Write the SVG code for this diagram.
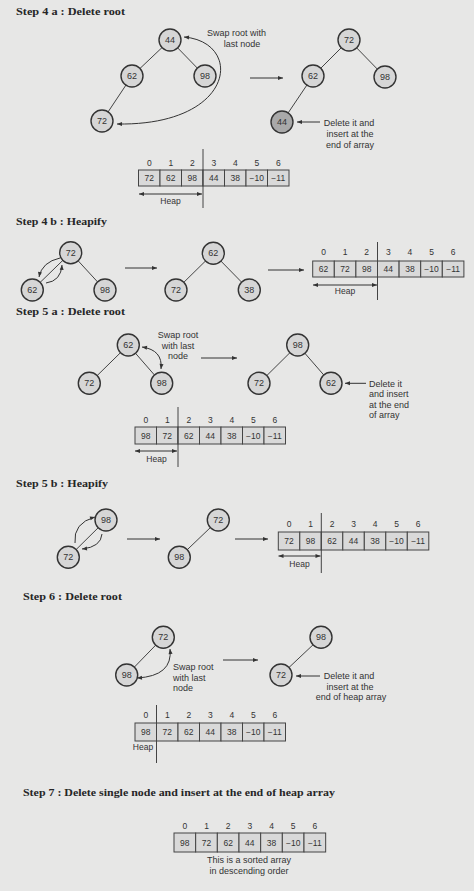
<svg xmlns="http://www.w3.org/2000/svg" width="474" height="891" viewBox="0 0 474 891">
<defs>
<marker id="ah" viewBox="0 0 10 10" refX="10" refY="5" markerWidth="6" markerHeight="5" orient="auto-start-reverse" markerUnits="userSpaceOnUse"><path d="M0,1 L10,5 L0,9 z" fill="#333"/></marker>
<style>
.t{font-family:"Liberation Serif","DejaVu Serif",serif;font-weight:bold;font-size:11px;fill:#262626}
.lbl{font-family:"Liberation Sans",Arial,sans-serif;font-size:9px;fill:#333}
.c{text-anchor:middle}
.n circle{fill:#d6d6d6;stroke:#333;stroke-width:1.4}
.n.dk circle{fill:#a9a9a9}
.n text{font-family:"Liberation Sans",Arial,sans-serif;font-size:9px;fill:#333;text-anchor:middle}
.arrtbl rect{fill:#d9d9d9;stroke:#444;stroke-width:1}
.arrtbl text{font-family:"Liberation Sans",Arial,sans-serif;font-size:8.5px;fill:#333;text-anchor:middle}
.edge{stroke:#444;stroke-width:1;fill:none}
.ar{stroke:#333;stroke-width:1;fill:none;marker-end:url(#ah)}
.ar2{stroke:#333;stroke-width:1;fill:none;marker-end:url(#ah);marker-start:url(#ah)}
.div{stroke:#444;stroke-width:1}
</style>
</defs>
<rect x="0" y="0" width="474" height="891" fill="#e7e7e6"/>

<g id="titles">
<text class="t" x="16" y="15" textLength="109" lengthAdjust="spacingAndGlyphs">Step 4 a : Delete root</text>
<text class="t" x="16" y="225" textLength="91" lengthAdjust="spacingAndGlyphs">Step 4 b : Heapify</text>
<text class="t" x="16" y="315" textLength="109" lengthAdjust="spacingAndGlyphs">Step 5 a : Delete root</text>
<text class="t" x="16" y="487" textLength="92" lengthAdjust="spacingAndGlyphs">Step 5 b : Heapify</text>
<text class="t" x="23" y="600" textLength="99" lengthAdjust="spacingAndGlyphs">Step 6 : Delete root</text>
<text class="t" x="23" y="796" textLength="312" lengthAdjust="spacingAndGlyphs">Step 7 : Delete single node and insert at the end of heap array</text>
</g>

<g id="connectors">
<!-- step 4a -->
<line class="edge" x1="170" y1="40" x2="132" y2="76"/>
<line class="edge" x1="170" y1="40" x2="205" y2="76"/>
<line class="edge" x1="132" y1="76" x2="102" y2="121"/>
<path class="ar2" d="M117,124 C236,126 244,42 184,37"/>
<line class="ar" x1="250" y1="78" x2="283" y2="78"/>
<line class="edge" x1="349" y1="40" x2="313" y2="76"/>
<line class="edge" x1="349" y1="40" x2="385" y2="77"/>
<line class="edge" x1="313" y1="76" x2="282" y2="122"/>
<line class="ar" x1="320" y1="122" x2="297" y2="122"/>
<!-- step 4b -->
<line class="edge" x1="70.7" y1="252.7" x2="32.3" y2="290"/>
<line class="edge" x1="70.7" y1="252.7" x2="105" y2="290"/>
<path class="ar" d="M60,258 Q42,262 39,277"/>
<path class="ar" d="M46,283 Q61,281 62,265"/>
<line class="ar" x1="125" y1="268" x2="157" y2="268"/>
<line class="edge" x1="213.3" y1="253.3" x2="176" y2="290"/>
<line class="edge" x1="213.3" y1="253.3" x2="249.3" y2="290"/>
<line class="ar" x1="268" y1="270" x2="304" y2="270"/>
<!-- step 5a -->
<line class="edge" x1="128.3" y1="345" x2="89.3" y2="383.3"/>
<line class="edge" x1="128.3" y1="345" x2="161.7" y2="383.3"/>
<path class="ar2" d="M142,347 Q163,350 161,369"/>
<line class="ar" x1="201" y1="358" x2="237" y2="358"/>
<line class="edge" x1="297.7" y1="345" x2="259" y2="383.3"/>
<line class="edge" x1="297.7" y1="345" x2="331" y2="383.3"/>
<line class="ar" x1="366" y1="383.3" x2="345" y2="383.3"/>
<!-- step 5b -->
<line class="edge" x1="106" y1="520" x2="68.3" y2="557.3"/>
<path class="ar" d="M75,543 Q73,523 95,517"/>
<path class="ar" d="M102,534 Q101,547 82,549"/>
<line class="ar" x1="127" y1="539" x2="160" y2="539"/>
<line class="edge" x1="218.3" y1="520" x2="179.3" y2="557.3"/>
<line class="ar" x1="235" y1="539" x2="268" y2="539"/>
<!-- step 6 -->
<line class="edge" x1="163.3" y1="637.3" x2="126.7" y2="675"/>
<path class="ar2" d="M170,649 Q173,676 137,678"/>
<line class="ar" x1="223" y1="660" x2="258" y2="660"/>
<line class="edge" x1="321" y1="637.3" x2="281" y2="675"/>
<line class="ar" x1="320" y1="676" x2="296" y2="676"/>
</g>

<g id="nodes">
<g id="s4a_n44" class="n"><circle cx="170" cy="40" r="11"/><text x="170" y="43">44</text></g>
<g id="s4a_n62" class="n"><circle cx="132" cy="76" r="11"/><text x="132" y="79">62</text></g>
<g id="s4a_n98" class="n"><circle cx="205" cy="76" r="11"/><text x="205" y="79">98</text></g>
<g id="s4a_n72" class="n"><circle cx="102" cy="121" r="11"/><text x="102" y="124">72</text></g>
<g id="s4a_r72" class="n"><circle cx="349" cy="40" r="11"/><text x="349" y="43">72</text></g>
<g id="s4a_r62" class="n"><circle cx="313" cy="76" r="11"/><text x="313" y="79">62</text></g>
<g id="s4a_r98" class="n"><circle cx="385" cy="77" r="11"/><text x="385" y="80">98</text></g>
<g id="s4a_r44" class="n dk"><circle cx="282" cy="122" r="11"/><text x="282" y="125">44</text></g>

<g id="s4b_n72" class="n"><circle cx="70.7" cy="252.7" r="11"/><text x="70.7" y="255.7">72</text></g>
<g id="s4b_n62" class="n"><circle cx="32.3" cy="290" r="11"/><text x="32.3" y="293">62</text></g>
<g id="s4b_n98" class="n"><circle cx="105" cy="290" r="11"/><text x="105" y="293">98</text></g>
<g id="s4b_m62" class="n"><circle cx="213.3" cy="253.3" r="11"/><text x="213.3" y="256.3">62</text></g>
<g id="s4b_m72" class="n"><circle cx="176" cy="290" r="11"/><text x="176" y="293">72</text></g>
<g id="s4b_m38" class="n"><circle cx="249.3" cy="290" r="11"/><text x="249.3" y="293">38</text></g>

<g id="s5a_n62" class="n"><circle cx="128.3" cy="345" r="11"/><text x="128.3" y="348">62</text></g>
<g id="s5a_n72" class="n"><circle cx="89.3" cy="383.3" r="11"/><text x="89.3" y="386.3">72</text></g>
<g id="s5a_n98" class="n"><circle cx="161.7" cy="383.3" r="11"/><text x="161.7" y="386.3">98</text></g>
<g id="s5a_r98" class="n"><circle cx="297.7" cy="345" r="11"/><text x="297.7" y="348">98</text></g>
<g id="s5a_r72" class="n"><circle cx="259" cy="383.3" r="11"/><text x="259" y="386.3">72</text></g>
<g id="s5a_r62" class="n"><circle cx="331" cy="383.3" r="11"/><text x="331" y="386.3">62</text></g>

<g id="s5b_n98" class="n"><circle cx="106" cy="520" r="11"/><text x="106" y="523">98</text></g>
<g id="s5b_n72" class="n"><circle cx="68.3" cy="557.3" r="11"/><text x="68.3" y="560.3">72</text></g>
<g id="s5b_m72" class="n"><circle cx="218.3" cy="520" r="11"/><text x="218.3" y="523">72</text></g>
<g id="s5b_m98" class="n"><circle cx="179.3" cy="557.3" r="11"/><text x="179.3" y="560.3">98</text></g>

<g id="s6_n72" class="n"><circle cx="163.3" cy="637.3" r="11"/><text x="163.3" y="640.3">72</text></g>
<g id="s6_n98" class="n"><circle cx="126.7" cy="675" r="11"/><text x="126.7" y="678">98</text></g>
<g id="s6_r98" class="n"><circle cx="321" cy="637.3" r="11"/><text x="321" y="640.3">98</text></g>
<g id="s6_r72" class="n"><circle cx="281" cy="675" r="11"/><text x="281" y="678">72</text></g>
</g>

<g id="labels">
<text class="lbl c" x="236.5" y="36">Swap root  with</text>
<text class="lbl c" x="242" y="47">last node</text>
<text class="lbl c" x="349" y="125.5">Delete it and</text>
<text class="lbl c" x="350" y="137">insert at the</text>
<text class="lbl c" x="350" y="148">end of array</text>
<text class="lbl c" x="178" y="338">Swap root</text>
<text class="lbl c" x="178" y="348.5">with last</text>
<text class="lbl c" x="178" y="359">node</text>
<text class="lbl" x="369" y="386.5">Delete it</text>
<text class="lbl" x="369" y="397">and insert</text>
<text class="lbl" x="369" y="407.5">at the end</text>
<text class="lbl" x="369" y="418">of array</text>
<text class="lbl" x="173" y="670">Swap root</text>
<text class="lbl" x="173" y="680.5">with last</text>
<text class="lbl" x="173" y="691">node</text>
<text class="lbl c" x="349" y="679">Delete it and</text>
<text class="lbl c" x="350" y="689.5">insert at the</text>
<text class="lbl c" x="351" y="700">end of heap array</text>
<text class="lbl c" x="249" y="863">This is a sorted array</text>
<text class="lbl c" x="249" y="874">in descending order</text>
</g>

<g id="array_4a" class="arrtbl">
<rect x="138.5" y="170" width="21.5" height="16"/><rect x="160" y="170" width="21.5" height="16"/><rect x="181.5" y="170" width="21.5" height="16"/><rect x="203" y="170" width="21.5" height="16"/><rect x="224.5" y="170" width="21.5" height="16"/><rect x="246" y="170" width="21.5" height="16"/><rect x="267.5" y="170" width="21.5" height="16"/>
<text x="149.25" y="166">0</text><text x="170.75" y="166">1</text><text x="192.25" y="166">2</text><text x="213.75" y="166">3</text><text x="235.25" y="166">4</text><text x="256.75" y="166">5</text><text x="278.25" y="166">6</text>
<text x="149.25" y="181">72</text><text x="170.75" y="181">62</text><text x="192.25" y="181">98</text><text x="213.75" y="181">44</text><text x="235.25" y="181">38</text><text x="256.75" y="181">−10</text><text x="278.25" y="181">−11</text>
<line class="div" x1="203" y1="149" x2="203" y2="208"/>
<line class="ar2" x1="139" y1="194" x2="202" y2="194"/>
<text x="170.5" y="204" font-size="9">Heap</text>
</g>

<g id="array_4b" class="arrtbl">
<rect x="312.7" y="261" width="21.6" height="16"/><rect x="334.3" y="261" width="21.6" height="16"/><rect x="355.9" y="261" width="21.6" height="16"/><rect x="377.5" y="261" width="21.6" height="16"/><rect x="399.1" y="261" width="21.6" height="16"/><rect x="420.7" y="261" width="21.6" height="16"/><rect x="442.3" y="261" width="21.6" height="16"/>
<text x="323.5" y="255">0</text><text x="345.1" y="255">1</text><text x="366.7" y="255">2</text><text x="388.3" y="255">3</text><text x="409.9" y="255">4</text><text x="431.5" y="255">5</text><text x="453.1" y="255">6</text>
<text x="323.5" y="272">62</text><text x="345.1" y="272">72</text><text x="366.7" y="272">98</text><text x="388.3" y="272">44</text><text x="409.9" y="272">38</text><text x="431.5" y="272">−10</text><text x="453.1" y="272">−11</text>
<line class="div" x1="377.5" y1="242" x2="377.5" y2="300"/>
<line class="ar2" x1="313" y1="285" x2="377" y2="285"/>
<text x="345" y="294" font-size="9">Heap</text>
</g>

<g id="array_5a" class="arrtbl">
<rect x="135" y="427" width="21.5" height="17"/><rect x="156.5" y="427" width="21.5" height="17"/><rect x="178" y="427" width="21.5" height="17"/><rect x="199.5" y="427" width="21.5" height="17"/><rect x="221" y="427" width="21.5" height="17"/><rect x="242.5" y="427" width="21.5" height="17"/><rect x="264" y="427" width="21.5" height="17"/>
<text x="145.75" y="422.5">0</text><text x="167.25" y="422.5">1</text><text x="188.75" y="422.5">2</text><text x="210.25" y="422.5">3</text><text x="231.75" y="422.5">4</text><text x="253.25" y="422.5">5</text><text x="274.75" y="422.5">6</text>
<text x="145.75" y="438.5">98</text><text x="167.25" y="438.5">72</text><text x="188.75" y="438.5">62</text><text x="210.25" y="438.5">44</text><text x="231.75" y="438.5">38</text><text x="253.25" y="438.5">−10</text><text x="274.75" y="438.5">−11</text>
<line class="div" x1="178" y1="407" x2="178" y2="467"/>
<line class="ar2" x1="135" y1="451" x2="177" y2="451"/>
<text x="156.5" y="462" font-size="9">Heap</text>
</g>

<g id="array_5b" class="arrtbl">
<rect x="278.3" y="532" width="21.5" height="18"/><rect x="299.8" y="532" width="21.5" height="18"/><rect x="321.3" y="532" width="21.5" height="18"/><rect x="342.8" y="532" width="21.5" height="18"/><rect x="364.3" y="532" width="21.5" height="18"/><rect x="385.8" y="532" width="21.5" height="18"/><rect x="407.3" y="532" width="21.5" height="18"/>
<text x="289.05" y="527">0</text><text x="310.55" y="527">1</text><text x="332.05" y="527">2</text><text x="353.55" y="527">3</text><text x="375.05" y="527">4</text><text x="396.55" y="527">5</text><text x="418.05" y="527">6</text>
<text x="289.05" y="544">72</text><text x="310.55" y="544">98</text><text x="332.05" y="544">62</text><text x="353.55" y="544">44</text><text x="375.05" y="544">38</text><text x="396.55" y="544">−10</text><text x="418.05" y="544">−11</text>
<line class="div" x1="321.3" y1="513" x2="321.3" y2="573"/>
<line class="ar2" x1="278.5" y1="556" x2="320.5" y2="556"/>
<text x="299.5" y="567" font-size="9">Heap</text>
</g>

<g id="array_6" class="arrtbl">
<rect x="135" y="723" width="21.5" height="18"/><rect x="156.5" y="723" width="21.5" height="18"/><rect x="178" y="723" width="21.5" height="18"/><rect x="199.5" y="723" width="21.5" height="18"/><rect x="221" y="723" width="21.5" height="18"/><rect x="242.5" y="723" width="21.5" height="18"/><rect x="264" y="723" width="21.5" height="18"/>
<text x="145.75" y="717.5">0</text><text x="167.25" y="717.5">1</text><text x="188.75" y="717.5">2</text><text x="210.25" y="717.5">3</text><text x="231.75" y="717.5">4</text><text x="253.25" y="717.5">5</text><text x="274.75" y="717.5">6</text>
<text x="145.75" y="735">98</text><text x="167.25" y="735">72</text><text x="188.75" y="735">62</text><text x="210.25" y="735">44</text><text x="231.75" y="735">38</text><text x="253.25" y="735">−10</text><text x="274.75" y="735">−11</text>
<line class="div" x1="156.5" y1="705" x2="156.5" y2="763"/>
<text x="143" y="750" font-size="9">Heap</text>
</g>

<g id="array_7" class="arrtbl">
<rect x="174" y="833" width="21.67" height="19"/><rect x="195.67" y="833" width="21.67" height="19"/><rect x="217.33" y="833" width="21.67" height="19"/><rect x="239" y="833" width="21.67" height="19"/><rect x="260.67" y="833" width="21.67" height="19"/><rect x="282.33" y="833" width="21.67" height="19"/><rect x="304" y="833" width="21.67" height="19"/>
<text x="184.8" y="829">0</text><text x="206.5" y="829">1</text><text x="228.2" y="829">2</text><text x="249.8" y="829">3</text><text x="271.5" y="829">4</text><text x="293.2" y="829">5</text><text x="314.8" y="829">6</text>
<text x="184.8" y="845.5">98</text><text x="206.5" y="845.5">72</text><text x="228.2" y="845.5">62</text><text x="249.8" y="845.5">44</text><text x="271.5" y="845.5">38</text><text x="293.2" y="845.5">−10</text><text x="314.8" y="845.5">−11</text>
</g>
</svg>
